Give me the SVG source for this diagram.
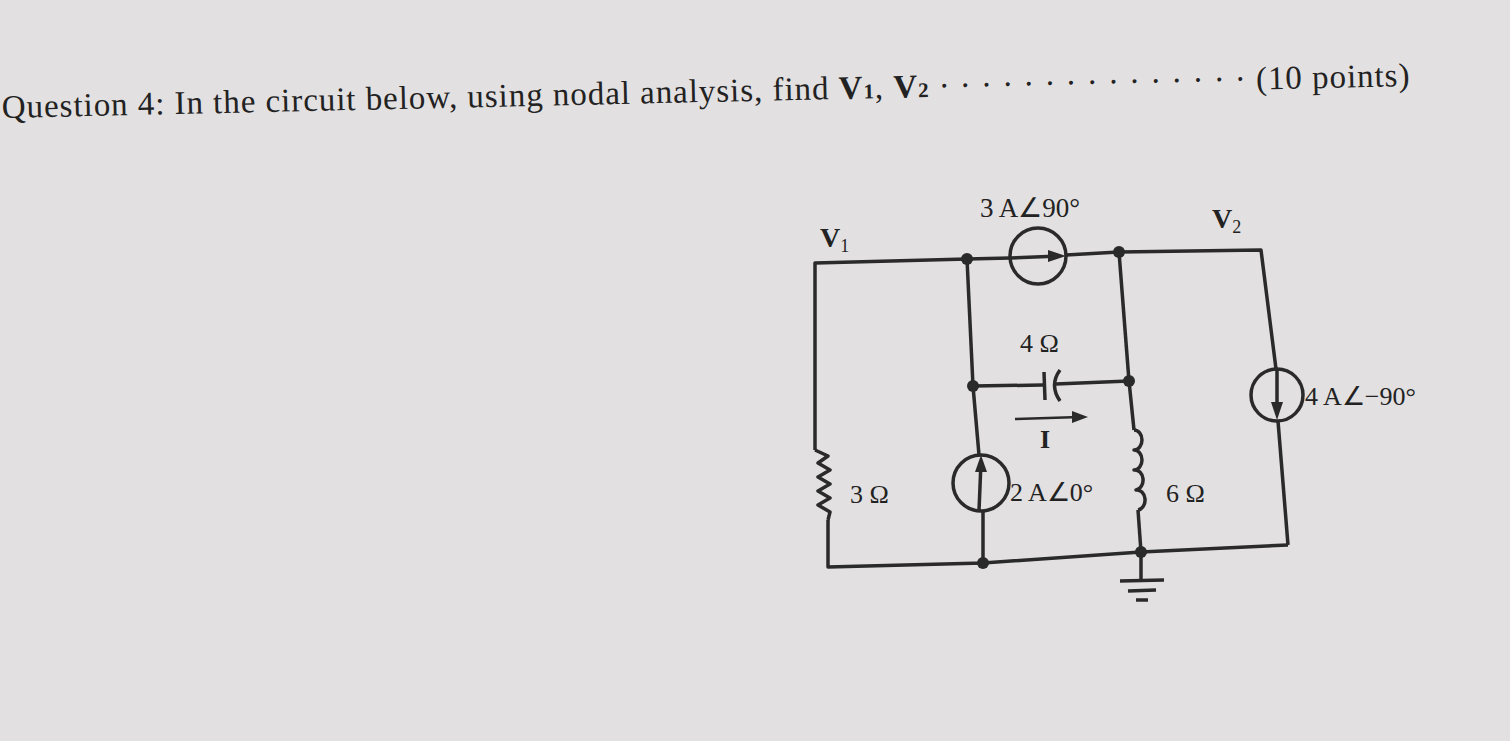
<svg xmlns="http://www.w3.org/2000/svg" width="1510" height="741" viewBox="0 0 1510 741">
<style>
.w{fill:none;stroke:#2a2a2a;stroke-width:3.5;stroke-linejoin:round}
.d{fill:#2a2a2a}
.t{font-family:"Liberation Serif",serif;fill:#222}
</style>
<rect width="1510" height="741" fill="#e2e0e1"/>
<g id="title">
<text class="t" x="2" y="118" font-size="33" textLength="1408" lengthAdjust="spacing" transform="rotate(-1.3 0 118)">Question 4:  In the circuit below, using nodal analysis, find <tspan font-weight="bold">V</tspan><tspan font-size="21" font-weight="bold">1</tspan>, <tspan font-weight="bold">V</tspan><tspan font-size="21" font-weight="bold">2</tspan> · · · · · · · · · · · · · · · (10 points)</text>
</g>
<g id="connectors">
<polyline class="w" points="815,450 815,263 967,259 1010,258"/>
<line class="w" x1="1066" y1="255" x2="1119" y2="252"/>
<polyline class="w" points="1119,252 1261,250 1276,369"/>
<line class="w" x1="1278" y1="421" x2="1288" y2="545"/>
<polyline class="w" points="828,520 828,567 983,563 1141,552 1288,545"/>
<line class="w" x1="967" y1="259" x2="973" y2="386"/>
<line class="w" x1="973" y1="386" x2="979" y2="455"/>
<line class="w" x1="983" y1="511" x2="983" y2="563"/>
<line class="w" x1="1119" y1="252" x2="1129" y2="381"/>
<polyline class="w" points="1129,381 1134,430"/>
<polyline class="w" points="1138,510 1141,552"/>
<line class="w" x1="973" y1="386" x2="1043" y2="385"/>
<line class="w" x1="1056" y1="384" x2="1129" y2="381"/>
<line class="w" x1="1141" y1="552" x2="1141" y2="580"/>
<line class="w" x1="1120" y1="581" x2="1164" y2="580"/>
<line class="w" x1="1128" y1="591" x2="1156" y2="590"/>
<line class="w" x1="1136" y1="600" x2="1148" y2="600"/>
</g>
<g id="dots" class="d">
<circle cx="967" cy="259" r="6"/><circle cx="1119" cy="252" r="6"/>
<circle cx="973" cy="386" r="6"/><circle cx="1129" cy="381" r="6"/>
<circle cx="983" cy="563" r="6"/><circle cx="1141" cy="552" r="6"/>
</g>
<g id="src3">
<circle class="w" cx="1038" cy="256" r="28"/>
<line class="w" x1="1010" y1="258" x2="1060" y2="256"/>
<polygon class="d" points="1066,256 1048,250 1048,262"/>
<text class="t" x="980" y="217" font-size="27">3 A∠90°</text>
</g>
<g id="src4">
<circle class="w" cx="1277" cy="395" r="26"/>
<line class="w" x1="1277" y1="369" x2="1277" y2="414"/>
<polygon class="d" points="1277,420 1271,402 1283,402"/>
<text class="t" x="1305" y="405" font-size="26">4 A∠−90°</text>
</g>
<g id="src2">
<circle class="w" cx="981" cy="483" r="28"/>
<line class="w" x1="979" y1="511" x2="981" y2="462"/>
<polygon class="d" points="981,455 975,472 987,472"/>
<text class="t" x="1010" y="501" font-size="26">2 A∠0°</text>
</g>
<g id="res3">
<polyline class="w" points="815,450 828,456 818,463 830,470 818,477 830,484 818,491 830,498 818,505 830,512 828,520"/>
<text class="t" x="850" y="503" font-size="26">3 Ω</text>
</g>
<g id="cap">
<line class="w" x1="1044" y1="372" x2="1045" y2="400"/>
<path class="w" d="M1060,370 Q1049,385 1060,401"/>
<text class="t" x="1020" y="352" font-size="26">4 Ω</text>
</g>
<g id="arrowI">
<line class="w" x1="1015" y1="419" x2="1080" y2="417" style="stroke-width:2.5"/>
<polygon class="d" points="1088,417 1072,411 1072,423"/>
<text class="t" x="1040" y="448" font-size="26" font-weight="bold">I</text>
</g>
<g id="ind">
<path class="w" d="M1134,430 a8,10 0 0 1 0,20 a8,10 0 0 1 0,20 a8,10 0 0 1 2,20 a8,10 0 0 1 2,20"/>
<text class="t" x="1166" y="502" font-size="26">6 Ω</text>
</g>
<g id="labels">
<text class="t" x="820" y="247" font-size="28" font-weight="bold">V<tspan font-size="18" font-weight="normal" dy="5">1</tspan></text>
<text class="t" x="1212" y="228" font-size="28" font-weight="bold">V<tspan font-size="18" font-weight="normal" dy="5">2</tspan></text>
</g>
</svg>
